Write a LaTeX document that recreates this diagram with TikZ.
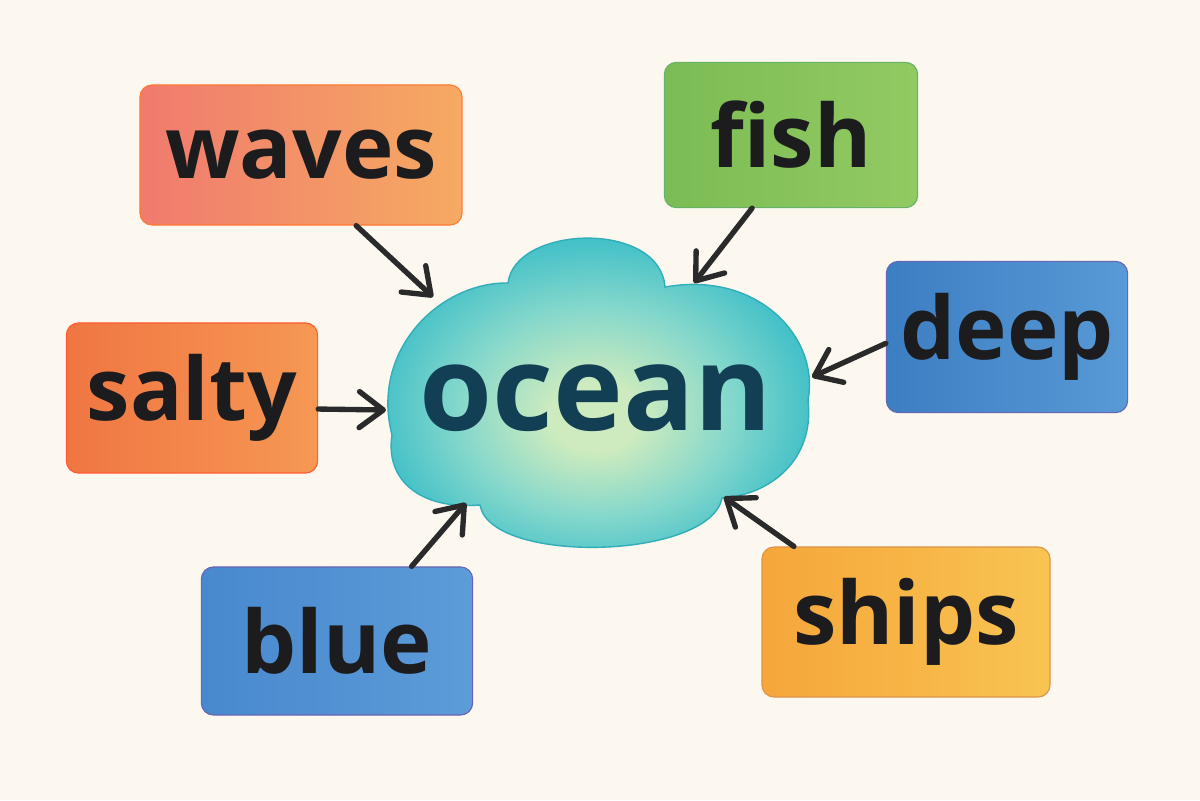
\documentclass[tikz,border=0pt]{standalone}
\usepackage{fontspec}
\setmainfont{Open Sans}
\usetikzlibrary{arrows.meta}
\definecolor{paper}{HTML}{FCF8EF}
\definecolor{ink}{HTML}{1C1C1E}
\definecolor{deepink}{HTML}{133F55}
\definecolor{arrowc}{HTML}{2A2A2A}
\definecolor{cloudin}{HTML}{CDEBBE}
\definecolor{cloudmid}{HTML}{86D8CB}
\definecolor{cloudout}{HTML}{45C1C8}
\definecolor{cloudline}{HTML}{30AEB9}
\pgfdeclareradialshading{cloudglow}{\pgfpoint{0bp}{-4bp}}{%
  color(0bp)=(cloudin); color(5bp)=(cloudin); color(15bp)=(cloudmid);
  color(24bp)=(cloudout); color(50bp)=(cloudout)}

\begin{document}
\begin{tikzpicture}[x=0.025cm, y=-0.025cm,
          box/.style = {rectangle, rounded corners=3mm, inner sep=0pt,
          line width=0.8pt, text=ink,
          font=\fontsize{62}{70}\selectfont\bfseries},
          link/.style = {draw=arrowc, line width=3.8pt, line cap=round,
          -{Straight Barb[length=6mm,width=9mm,round]}}
          ]
  % paper
  \fill[paper] (0,0) rectangle (1200,800);
  \useasboundingbox (0,0) rectangle (1200,800);

  % cloud in the middle
  \path[shading=cloudglow, draw=cloudline, line width=1pt]
    (392,435) .. controls (370,350) and (440,282) .. (508,283)
    .. controls (515,225) and (660,220) .. (665,287)
    .. controls (760,270) and (820,340) .. (808,400)
    .. controls (815,460) and (770,495) .. (722,498)
    .. controls (710,560) and (490,565) .. (480,505)
    .. controls (420,510) and (385,480) .. (392,435) -- cycle;
  \node[text=deepink, inner sep=0pt, font=\fontsize{84}{90}\selectfont\bfseries] (ocean) at (596,398) {ocean};
  \coordinate (in-waves) at (433,297);
  \coordinate (in-fish) at (694,283);
  \coordinate (in-deep) at (812,377);
  \coordinate (in-salty) at (386,410);
  \coordinate (in-blue) at (466,503);
  \coordinate (in-ships) at (724,497);

  % the six words
  \node[box, minimum width=8.05cm, minimum height=3.5cm, draw=orange!70!red!80,
        left color={rgb,255:red,240;green,122;blue,110}, right color={rgb,255:red,246;green,170;blue,98}]
        (waves) at (301,155) {waves};
  \node[box, minimum width=6.33cm, minimum height=3.63cm, draw=green!50!black!60,
        left color={rgb,255:red,124;green,188;blue,84}, right color={rgb,255:red,146;green,202;blue,98}]
        (fish) at (791,135) {fish};
  \node[box, minimum width=6.03cm, minimum height=3.78cm, draw=blue!50!black!60,
        left color={rgb,255:red,60;green,126;blue,194}, right color={rgb,255:red,88;green,154;blue,214}]
        (deep) at (1007,337) {deep};
  \node[box, minimum width=6.28cm, minimum height=3.75cm, draw=red!60!orange!80,
        left color={rgb,255:red,240;green,118;blue,66}, right color={rgb,255:red,246;green,152;blue,84}]
        (salty) at (192,398) {salty};
  \node[box, minimum width=6.78cm, minimum height=3.7cm, draw=blue!50!black!60,
        left color={rgb,255:red,72;green,136;blue,206}, right color={rgb,255:red,92;green,156;blue,216}]
        (blue) at (337,641) {blue};
  \node[box, minimum width=7.2cm, minimum height=3.75cm, draw=orange!80!black!70,
        left color={rgb,255:red,246;green,166;blue,58}, right color={rgb,255:red,248;green,196;blue,82}]
        (ships) at (906,622) {ships};

  % arrows into the cloud
  \draw[link] (waves.-52) -- (in-waves);
  \draw[link] (fish.242) -- (in-fish);
  \draw[link] (deep.183) -- (in-deep);
  \draw[link] (salty.-5) -- (in-salty);
  \draw[link] (blue.45) -- (in-blue);
  \draw[link] (ships.146) -- (in-ships);
\end{tikzpicture}
\end{document}
